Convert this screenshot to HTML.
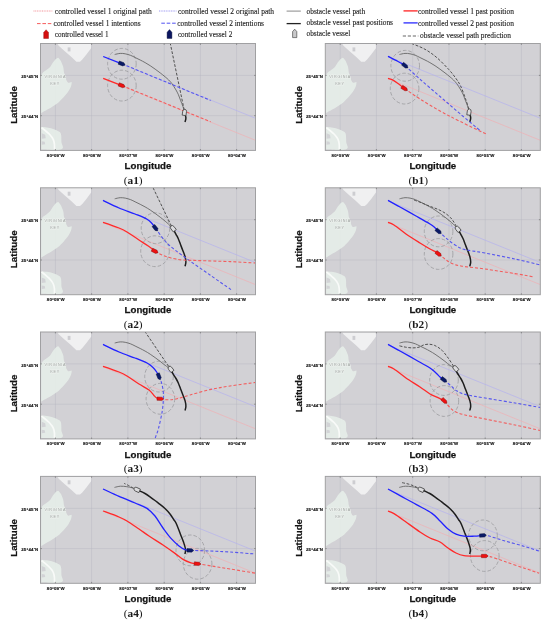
<!DOCTYPE html>
<html lang="en"><head><meta charset="utf-8"><title>Vessel collision avoidance scenarios</title>
<style>
html,body{margin:0;padding:0;background:#fff;}
body{width:550px;height:625px;overflow:hidden;}
svg{display:block;}
.lg{font-family:"Liberation Serif",serif;font-size:7.6px;fill:#222;stroke:#222;stroke-width:0.12px;}
.tk{font-family:"Liberation Sans",sans-serif;font-weight:bold;font-size:4.35px;fill:#1c1c1c;letter-spacing:0.22px;stroke:#1c1c1c;stroke-width:0.18px;}
.ax{font-family:"Liberation Sans",sans-serif;font-weight:bold;font-size:9.7px;fill:#141414;stroke:#141414;stroke-width:0.25px;}
.cap{font-family:"Liberation Serif",serif;font-weight:bold;font-size:11.3px;fill:#1a1a1a;}
.pr{font-weight:normal;font-size:11.4px;}
.mk{font-family:"Liberation Sans",sans-serif;font-size:3.7px;fill:#9fa3a1;letter-spacing:0.7px;stroke:#edf1ee;stroke-width:1px;paint-order:stroke;}
</style></head><body>
<svg width="550" height="625" viewBox="0 0 550 625">
<rect width="550" height="625" fill="#fff"/>
<path d="M33.5 11H52.5" fill="none" stroke="#f2959b" stroke-width="1.0" stroke-dasharray="1 0.7" stroke-linecap="butt" stroke-linejoin="round"/>
<text x="54.8" y="13.6" class="lg" textLength="97" lengthAdjust="spacingAndGlyphs">controlled vessel 1 original path</text>
<path d="M37 23.6H51.3" fill="none" stroke="#f54a4a" stroke-width="0.9" stroke-dasharray="3.6 1.8" stroke-linecap="butt" stroke-linejoin="round"/>
<text x="53.6" y="26.0" class="lg" textLength="87" lengthAdjust="spacingAndGlyphs">controlled vessel 1 intentions</text>
<path d="M43.7 38.5V32.4L46.1 29.7L48.5 32.4V38.5Z" fill="#d40f0f" stroke="#8a0a0a" stroke-width="0.4"/>
<text x="54.8" y="37.2" class="lg" textLength="53.7" lengthAdjust="spacingAndGlyphs">controlled vessel 1</text>
<path d="M159 11H176.5" fill="none" stroke="#9c98f0" stroke-width="1.0" stroke-dasharray="1 0.7" stroke-linecap="butt" stroke-linejoin="round"/>
<text x="177.9" y="13.6" class="lg" textLength="96.2" lengthAdjust="spacingAndGlyphs">controlled vessel 2 original path</text>
<path d="M161.3 23.2H176" fill="none" stroke="#3c3cf0" stroke-width="0.9" stroke-dasharray="3.6 1.8" stroke-linecap="butt" stroke-linejoin="round"/>
<text x="177.2" y="25.6" class="lg" textLength="86.8" lengthAdjust="spacingAndGlyphs">controlled vessel 2 intentions</text>
<path d="M167.1 38.4V32.3L169.5 29.6L171.9 32.3V38.4Z" fill="#0b1660" stroke="#060b33" stroke-width="0.4"/>
<text x="177.9" y="36.6" class="lg" textLength="54.4" lengthAdjust="spacingAndGlyphs">controlled vessel 2</text>
<path d="M286.6 11.1H300.8" fill="none" stroke="#7c7c7c" stroke-width="0.9" stroke-linecap="butt" stroke-linejoin="round"/>
<text x="306.5" y="13.6" class="lg" textLength="58.6" lengthAdjust="spacingAndGlyphs">obstacle vessel path</text>
<path d="M286.6 23.6H300.8" fill="none" stroke="#222" stroke-width="1.3" stroke-linecap="butt" stroke-linejoin="round"/>
<text x="306.5" y="25.4" class="lg" textLength="86.5" lengthAdjust="spacingAndGlyphs">obstacle vessel past positions</text>
<path d="M292.6 37.6V31.6L294.7 29.2L296.8 31.6V37.6Z" fill="#c9c9cb" stroke="#333" stroke-width="0.6"/>
<text x="306.5" y="36.1" class="lg" textLength="43.7" lengthAdjust="spacingAndGlyphs">obstacle vessel</text>
<path d="M403.5 10.9H417.7" fill="none" stroke="#ff2222" stroke-width="1.3" stroke-linecap="butt" stroke-linejoin="round"/>
<text x="417.9" y="13.6" class="lg" textLength="96" lengthAdjust="spacingAndGlyphs">controlled vessel 1 past position</text>
<path d="M403.5 22.9H417.7" fill="none" stroke="#2a2aff" stroke-width="1.3" stroke-linecap="butt" stroke-linejoin="round"/>
<text x="417.9" y="25.6" class="lg" textLength="96" lengthAdjust="spacingAndGlyphs">controlled vessel 2 past position</text>
<path d="M402.8 36H418.4" fill="none" stroke="#555" stroke-width="0.9" stroke-dasharray="3.2 1.8" stroke-linecap="butt" stroke-linejoin="round"/>
<text x="420" y="38.0" class="lg" textLength="91" lengthAdjust="spacingAndGlyphs">obstacle vessel path prediction</text>
<!-- panel a1 -->
<g transform="translate(40.5 43.5)">
<rect x="0" y="0" width="215" height="106.9" fill="#d2d1d5"/>
<path d="M14.9 0V106.9" stroke="#b2b1be" stroke-width="0.6" opacity="0.65"/>
<path d="M51.1 0V106.9" stroke="#b2b1be" stroke-width="0.6" opacity="0.65"/>
<path d="M87.4 0V106.9" stroke="#b2b1be" stroke-width="0.6" opacity="0.65"/>
<path d="M123.7 0V106.9" stroke="#b2b1be" stroke-width="0.6" opacity="0.65"/>
<path d="M159.9 0V106.9" stroke="#b2b1be" stroke-width="0.6" opacity="0.65"/>
<path d="M196.1 0V106.9" stroke="#b2b1be" stroke-width="0.6" opacity="0.65"/>
<path d="M0 31.9H215" stroke="#b2b1be" stroke-width="0.6" opacity="0.65"/>
<path d="M0 72.2H215" stroke="#b2b1be" stroke-width="0.6" opacity="0.65"/>
<g transform="translate(0.2 -0.3)">
<path d="M0.5 32 C0.7 31.7 1.6 29.9 2.3 29.2 C3 28.5 5.4 27.1 6.3 26.4 C7.2 25.7 8.9 24.5 9.6 23.6 C10.3 22.7 11.7 20 12.4 19.1 C13.1 18.2 14.6 16.3 15.2 15.8 C15.8 15.3 16.9 14.3 17.5 14.6 C18.1 14.9 19.7 16.9 20.3 18 C20.9 19.1 22.1 22.3 22.5 23.6 C22.9 24.9 23 28 23.3 29.2 C23.6 30.4 24.5 32.7 24.8 33.7 C25.1 34.7 25.6 36.7 25.9 37.4 C26.2 38.1 26.9 39.4 27.5 39.6 C28.1 39.8 30.6 38.4 30.9 38.8 C31.2 39.2 30.8 41.6 30.4 42.7 C30 43.8 28.5 47 27.6 48.3 C26.7 49.6 24.3 52.6 23.1 53.9 C21.9 55.2 18.9 58.3 17.5 59.5 C16.1 60.7 12.4 63 10.8 64 C9.2 65 5.2 67.2 4 67.9 C2.8 68.6 0.9 69.8 0.5 70.1 Z" fill="#e7f0ea" fill-opacity="0.85"/>
<path d="M16.6 0.6 L50.4 0.6 L50.4 5.1 L45.7 11.4 L41.6 16.4 L39.3 18.5 L35.7 18.5 L30.2 13.3 L23.8 7.8 L18 2.6 Z" fill="#f0f0f1"/>
<rect x="27" y="4.2" width="2.8" height="4" fill="#cdcdd1"/>
<path d="M0.6 83.9 C1.7 84 4 83.9 6.2 84.2 C8.4 84.5 9.5 84.8 11.7 85.5 C13.9 86.2 15.4 86.7 17.1 87.7 C18.8 88.7 19.4 88.2 20.1 90.4 C20.8 92.6 20.6 95.4 20.7 98.6 C20.8 101.8 24.4 104.8 20.4 106.3 C16.4 107.8 4.6 106.3 0.6 106.3 Z" fill="#e7f0ea" fill-opacity="0.85"/>
<path d="M0.8 84.4 C2.2 85.6 3.6 86.5 6.2 88.8 C8.8 91.1 8.7 90.6 10.6 93.2 C12.5 95.8 12.4 95.1 13.3 98.6 C14.2 102.1 13.7 104.2 13.8 106.3" fill="none" stroke="#f8faf8" stroke-width="1.7"/>
<path d="M1 90 L4.5 91.5 L5 95 L1 95.5 Z M1 98 L4 98.5 L4.5 101 L1 101.5Z" fill="#d2d3d6"/>
<text x="14.6" y="34.8" class="mk" text-anchor="middle">VIRGINIA</text>
<text x="14.4" y="41.6" class="mk" text-anchor="middle">KEY</text>
</g>
</g>
<clipPath id="cpa1"><rect x="40.5" y="43.5" width="215" height="106.9"/></clipPath>
<g clip-path="url(#cpa1)">
<path d="M103.2 56.6 L255.7 118.3" fill="none" stroke="#b4b1ee" stroke-width="0.7" stroke-linecap="butt" stroke-linejoin="round"/>
<path d="M103.2 78.5 L255.7 140.4" fill="none" stroke="#efb0b5" stroke-width="0.7" stroke-linecap="butt" stroke-linejoin="round"/>
<ellipse cx="121.9" cy="63.8" rx="14.3" ry="15.4" fill="none" stroke="#a0a0a4" stroke-width="0.9" stroke-dasharray="3.6 2"/>
<ellipse cx="121.9" cy="85.6" rx="14.3" ry="15.4" fill="none" stroke="#a0a0a4" stroke-width="0.9" stroke-dasharray="3.6 2"/>
<path d="M114.7 54.5 C115.6 54.3 118.5 53.5 120.2 53.4 C122 53.3 123.5 53.5 125.2 53.8 C127 54.1 129 54.8 130.7 55.4 C132.3 56 133.5 56.7 135.1 57.5 C136.7 58.3 138.5 59.1 140.2 60 C141.9 60.9 143.4 61.6 145.1 62.6 C146.8 63.6 148.5 64.6 150.2 65.7 C151.9 66.8 153.4 67.9 155.1 69.1 C156.8 70.3 158.5 71.6 160.2 72.9 C161.9 74.2 163.7 75.6 165.1 76.8 C166.5 78 167.5 78.8 168.7 80 C169.8 81.2 170.8 82 172 83.7 C173.2 85.4 175 88.2 176 90 C177 91.8 177.4 92.5 178.2 94.2 C178.9 95.9 179.7 98.1 180.5 100.2 C181.3 102.3 182.3 104.7 183 106.7 C183.7 108.7 184.2 111.4 184.5 112.3" fill="none" stroke="#666666" stroke-width="0.9" stroke-linecap="butt" stroke-linejoin="round"/>
<path d="M184.5 112.3 C184.7 113.2 185.8 116.1 185.9 117.7 C186 119.3 185.2 121.3 185 122" fill="none" stroke="#1e1e1e" stroke-width="1.5" stroke-linecap="butt" stroke-linejoin="round"/>
<path d="M184.2 110 L170.2 43" fill="none" stroke="#505050" stroke-width="1.0" stroke-dasharray="2.8 1.6" stroke-linecap="butt" stroke-linejoin="round"/>
<path d="M121.9 63.8 L210.6 100.4" fill="none" stroke="#5656ee" stroke-width="1.1" stroke-dasharray="3 2" stroke-linecap="butt" stroke-linejoin="round"/>
<path d="M121.9 85.6 L210.6 121.8" fill="none" stroke="#f25e5e" stroke-width="1.1" stroke-dasharray="3 2" stroke-linecap="butt" stroke-linejoin="round"/>
<path d="M103.2 56.5 L121.9 63.8" fill="none" stroke="#2222ff" stroke-width="1.3" stroke-linecap="butt" stroke-linejoin="round"/>
<path d="M103.2 78.4 L121.9 85.6" fill="none" stroke="#ff2a2a" stroke-width="1.3" stroke-linecap="butt" stroke-linejoin="round"/>
<path d="M-3.1 -1.9 L0.9 -1.9 Q2.8 -1.9 3.1 0 Q2.8 1.9 0.9 1.9 L-3.1 1.9 Z" transform="translate(184.5 112.3) rotate(-82)" fill="#dcdcde" stroke="#333" stroke-width="0.7" stroke-linejoin="round"/>
<path d="M-3.4 -1.7 L1.5 -1.7 L3.4 0 L1.5 1.7 L-3.4 1.7 Z" transform="translate(121.9 63.8) rotate(21.5)" fill="#0a1a66" stroke="#050c3a" stroke-width="0.4" stroke-linejoin="round"/>
<path d="M-3.4 -1.7 L1.5 -1.7 L3.4 0 L1.5 1.7 L-3.4 1.7 Z" transform="translate(121.9 85.6) rotate(21.5)" fill="#ee1111" stroke="#7a0a0a" stroke-width="0.4" stroke-linejoin="round"/>
</g>
<g transform="translate(40.5 43.5)">
<rect x="0" y="0" width="215" height="106.9" fill="none" stroke="#a0a0a2" stroke-width="1"/>
<path d="M14.9 0v1.4M14.9 106.9v-1.4M51.1 0v1.4M51.1 106.9v-1.4M87.4 0v1.4M87.4 106.9v-1.4M123.7 0v1.4M123.7 106.9v-1.4M159.9 0v1.4M159.9 106.9v-1.4M196.1 0v1.4M196.1 106.9v-1.4M0 31.9h1.4M215 31.9h-1.4M0 72.2h1.4M215 72.2h-1.4" stroke="#666" stroke-width="0.6"/>
<text x="15.3" y="113.4" class="tk" text-anchor="middle">80°09'W</text>
<text x="51.5" y="113.4" class="tk" text-anchor="middle">80°08'W</text>
<text x="87.8" y="113.4" class="tk" text-anchor="middle">80°07'W</text>
<text x="124.1" y="113.4" class="tk" text-anchor="middle">80°06'W</text>
<text x="160.3" y="113.4" class="tk" text-anchor="middle">80°05'W</text>
<text x="196.5" y="113.4" class="tk" text-anchor="middle">80°04'W</text>
<text x="-2.2" y="34.6" class="tk" text-anchor="end">25°45'N</text>
<text x="-2.2" y="74.5" class="tk" text-anchor="end">25°44'N</text>
<text x="107.5" y="125.7" class="ax" text-anchor="middle">Longitude</text>
<text transform="translate(-23.5 61.5) rotate(-90)" class="ax" text-anchor="middle">Latitude</text>
<text x="83.2" y="140.2" class="cap"><tspan class="pr">(</tspan>a1<tspan class="pr">)</tspan></text>
</g>
<!-- panel b1 -->
<g transform="translate(325.3 43.5)">
<rect x="0" y="0" width="215" height="106.9" fill="#d2d1d5"/>
<path d="M14.9 0V106.9" stroke="#b2b1be" stroke-width="0.6" opacity="0.65"/>
<path d="M51.1 0V106.9" stroke="#b2b1be" stroke-width="0.6" opacity="0.65"/>
<path d="M87.4 0V106.9" stroke="#b2b1be" stroke-width="0.6" opacity="0.65"/>
<path d="M123.7 0V106.9" stroke="#b2b1be" stroke-width="0.6" opacity="0.65"/>
<path d="M159.9 0V106.9" stroke="#b2b1be" stroke-width="0.6" opacity="0.65"/>
<path d="M196.1 0V106.9" stroke="#b2b1be" stroke-width="0.6" opacity="0.65"/>
<path d="M0 31.9H215" stroke="#b2b1be" stroke-width="0.6" opacity="0.65"/>
<path d="M0 72.2H215" stroke="#b2b1be" stroke-width="0.6" opacity="0.65"/>
<g transform="translate(0.2 -0.3)">
<path d="M0.5 32 C0.7 31.7 1.6 29.9 2.3 29.2 C3 28.5 5.4 27.1 6.3 26.4 C7.2 25.7 8.9 24.5 9.6 23.6 C10.3 22.7 11.7 20 12.4 19.1 C13.1 18.2 14.6 16.3 15.2 15.8 C15.8 15.3 16.9 14.3 17.5 14.6 C18.1 14.9 19.7 16.9 20.3 18 C20.9 19.1 22.1 22.3 22.5 23.6 C22.9 24.9 23 28 23.3 29.2 C23.6 30.4 24.5 32.7 24.8 33.7 C25.1 34.7 25.6 36.7 25.9 37.4 C26.2 38.1 26.9 39.4 27.5 39.6 C28.1 39.8 30.6 38.4 30.9 38.8 C31.2 39.2 30.8 41.6 30.4 42.7 C30 43.8 28.5 47 27.6 48.3 C26.7 49.6 24.3 52.6 23.1 53.9 C21.9 55.2 18.9 58.3 17.5 59.5 C16.1 60.7 12.4 63 10.8 64 C9.2 65 5.2 67.2 4 67.9 C2.8 68.6 0.9 69.8 0.5 70.1 Z" fill="#e7f0ea" fill-opacity="0.85"/>
<path d="M16.6 0.6 L50.4 0.6 L50.4 5.1 L45.7 11.4 L41.6 16.4 L39.3 18.5 L35.7 18.5 L30.2 13.3 L23.8 7.8 L18 2.6 Z" fill="#f0f0f1"/>
<rect x="27" y="4.2" width="2.8" height="4" fill="#cdcdd1"/>
<path d="M0.6 83.9 C1.7 84 4 83.9 6.2 84.2 C8.4 84.5 9.5 84.8 11.7 85.5 C13.9 86.2 15.4 86.7 17.1 87.7 C18.8 88.7 19.4 88.2 20.1 90.4 C20.8 92.6 20.6 95.4 20.7 98.6 C20.8 101.8 24.4 104.8 20.4 106.3 C16.4 107.8 4.6 106.3 0.6 106.3 Z" fill="#e7f0ea" fill-opacity="0.85"/>
<path d="M0.8 84.4 C2.2 85.6 3.6 86.5 6.2 88.8 C8.8 91.1 8.7 90.6 10.6 93.2 C12.5 95.8 12.4 95.1 13.3 98.6 C14.2 102.1 13.7 104.2 13.8 106.3" fill="none" stroke="#f8faf8" stroke-width="1.7"/>
<path d="M1 90 L4.5 91.5 L5 95 L1 95.5 Z M1 98 L4 98.5 L4.5 101 L1 101.5Z" fill="#d2d3d6"/>
<text x="14.6" y="34.8" class="mk" text-anchor="middle">VIRGINIA</text>
<text x="14.4" y="41.6" class="mk" text-anchor="middle">KEY</text>
</g>
</g>
<clipPath id="cpb1"><rect x="325.3" y="43.5" width="215" height="106.9"/></clipPath>
<g clip-path="url(#cpb1)">
<path d="M388 56.6 L540.5 118.3" fill="none" stroke="#b4b1ee" stroke-width="0.7" stroke-linecap="butt" stroke-linejoin="round"/>
<path d="M388 78.5 L540.5 140.4" fill="none" stroke="#efb0b5" stroke-width="0.7" stroke-linecap="butt" stroke-linejoin="round"/>
<ellipse cx="405.2" cy="65.8" rx="14.3" ry="15.4" fill="none" stroke="#a0a0a4" stroke-width="0.9" stroke-dasharray="3.6 2"/>
<ellipse cx="404.6" cy="88.6" rx="14.3" ry="15.4" fill="none" stroke="#a0a0a4" stroke-width="0.9" stroke-dasharray="3.6 2"/>
<path d="M399.5 54.5 C400.4 54.3 403.2 53.5 405 53.4 C406.8 53.3 408.2 53.5 410 53.8 C411.8 54.1 413.9 54.8 415.5 55.4 C417.1 56 418.3 56.7 419.9 57.5 C421.5 58.3 423.3 59.1 425 60 C426.7 60.9 428.2 61.6 429.9 62.6 C431.6 63.6 433.3 64.6 435 65.7 C436.7 66.8 438.2 67.9 439.9 69.1 C441.6 70.3 443.3 71.6 445 72.9 C446.7 74.2 448.5 75.6 449.9 76.8 C451.3 78 452.4 78.8 453.5 80 C454.6 81.2 455.6 82 456.8 83.7 C458 85.4 459.8 88.2 460.8 90 C461.8 91.8 462.2 92.5 463 94.2 C463.8 95.9 464.5 98.1 465.3 100.2 C466.1 102.3 467.2 104.7 467.8 106.7 C468.4 108.7 468.9 111.1 469.1 112" fill="none" stroke="#666666" stroke-width="0.9" stroke-linecap="butt" stroke-linejoin="round"/>
<path d="M469.1 112 C469.4 113 470.6 116 470.7 117.7 C470.8 119.4 469.9 121.3 469.8 122" fill="none" stroke="#1e1e1e" stroke-width="1.5" stroke-linecap="butt" stroke-linejoin="round"/>
<path d="M468.8 109 C468.2 107.2 466.8 102.2 465.4 98.4 C464 94.6 462.2 89.3 460.6 86 C459 82.7 457.8 81.1 455.8 78.3 C453.8 75.5 451.9 72.9 448.7 69.4 C445.5 66 440.8 61 436.8 57.6 C432.9 54.2 429 51.6 425 49.3 C421 47 415 44.9 413 44" fill="none" stroke="#505050" stroke-width="1.0" stroke-dasharray="2.8 1.6" stroke-linecap="butt" stroke-linejoin="round"/>
<path d="M405.2 65.8 C407.7 68 414.2 74.1 420 79.2 C425.8 84.3 433.3 90.8 440 96.5 C446.7 102.2 453.2 107.9 460 113.7 C466.8 119.5 477.5 128.4 481 131.3" fill="none" stroke="#5656ee" stroke-width="1.1" stroke-dasharray="3 2" stroke-linecap="butt" stroke-linejoin="round"/>
<path d="M404.6 88.6 C407.2 90.3 414.1 95.3 420 99 C425.9 102.7 433.3 107.3 440 111 C446.7 114.7 452.1 117.5 460 121.4 C467.9 125.3 482.8 132.4 487.4 134.6" fill="none" stroke="#f25e5e" stroke-width="1.1" stroke-dasharray="3 2" stroke-linecap="butt" stroke-linejoin="round"/>
<path d="M388 56.4 C389.3 57.1 393.7 59.2 396 60.4 C398.3 61.6 400.5 62.7 402 63.6 C403.5 64.5 404.7 65.4 405.2 65.8" fill="none" stroke="#2222ff" stroke-width="1.3" stroke-linecap="butt" stroke-linejoin="round"/>
<path d="M388 78.4 C388.7 78.6 390.3 78.8 392 79.6 C393.7 80.4 395.9 82 398 83.5 C400.1 85 403.5 87.8 404.6 88.6" fill="none" stroke="#ff2a2a" stroke-width="1.3" stroke-linecap="butt" stroke-linejoin="round"/>
<path d="M-3.1 -1.9 L0.9 -1.9 Q2.8 -1.9 3.1 0 Q2.8 1.9 0.9 1.9 L-3.1 1.9 Z" transform="translate(469.1 112) rotate(-82)" fill="#dcdcde" stroke="#333" stroke-width="0.7" stroke-linejoin="round"/>
<path d="M-3.4 -1.7 L1.5 -1.7 L3.4 0 L1.5 1.7 L-3.4 1.7 Z" transform="translate(405.2 65.8) rotate(38)" fill="#0a1a66" stroke="#050c3a" stroke-width="0.4" stroke-linejoin="round"/>
<path d="M-3.4 -1.7 L1.5 -1.7 L3.4 0 L1.5 1.7 L-3.4 1.7 Z" transform="translate(404.6 88.6) rotate(33)" fill="#ee1111" stroke="#7a0a0a" stroke-width="0.4" stroke-linejoin="round"/>
</g>
<g transform="translate(325.3 43.5)">
<rect x="0" y="0" width="215" height="106.9" fill="none" stroke="#a0a0a2" stroke-width="1"/>
<path d="M14.9 0v1.4M14.9 106.9v-1.4M51.1 0v1.4M51.1 106.9v-1.4M87.4 0v1.4M87.4 106.9v-1.4M123.7 0v1.4M123.7 106.9v-1.4M159.9 0v1.4M159.9 106.9v-1.4M196.1 0v1.4M196.1 106.9v-1.4M0 31.9h1.4M215 31.9h-1.4M0 72.2h1.4M215 72.2h-1.4" stroke="#666" stroke-width="0.6"/>
<text x="15.3" y="113.4" class="tk" text-anchor="middle">80°09'W</text>
<text x="51.5" y="113.4" class="tk" text-anchor="middle">80°08'W</text>
<text x="87.8" y="113.4" class="tk" text-anchor="middle">80°07'W</text>
<text x="124.1" y="113.4" class="tk" text-anchor="middle">80°06'W</text>
<text x="160.3" y="113.4" class="tk" text-anchor="middle">80°05'W</text>
<text x="196.5" y="113.4" class="tk" text-anchor="middle">80°04'W</text>
<text x="-2.2" y="34.6" class="tk" text-anchor="end">25°45'N</text>
<text x="-2.2" y="74.5" class="tk" text-anchor="end">25°44'N</text>
<text x="107.5" y="125.7" class="ax" text-anchor="middle">Longitude</text>
<text transform="translate(-23.5 61.5) rotate(-90)" class="ax" text-anchor="middle">Latitude</text>
<text x="83.2" y="140.2" class="cap"><tspan class="pr">(</tspan>b1<tspan class="pr">)</tspan></text>
</g>
<!-- panel a2 -->
<g transform="translate(40.5 187.8)">
<rect x="0" y="0" width="215" height="106.9" fill="#d2d1d5"/>
<path d="M14.9 0V106.9" stroke="#b2b1be" stroke-width="0.6" opacity="0.65"/>
<path d="M51.1 0V106.9" stroke="#b2b1be" stroke-width="0.6" opacity="0.65"/>
<path d="M87.4 0V106.9" stroke="#b2b1be" stroke-width="0.6" opacity="0.65"/>
<path d="M123.7 0V106.9" stroke="#b2b1be" stroke-width="0.6" opacity="0.65"/>
<path d="M159.9 0V106.9" stroke="#b2b1be" stroke-width="0.6" opacity="0.65"/>
<path d="M196.1 0V106.9" stroke="#b2b1be" stroke-width="0.6" opacity="0.65"/>
<path d="M0 31.9H215" stroke="#b2b1be" stroke-width="0.6" opacity="0.65"/>
<path d="M0 72.2H215" stroke="#b2b1be" stroke-width="0.6" opacity="0.65"/>
<g transform="translate(0.2 -0.3)">
<path d="M0.5 32 C0.7 31.7 1.6 29.9 2.3 29.2 C3 28.5 5.4 27.1 6.3 26.4 C7.2 25.7 8.9 24.5 9.6 23.6 C10.3 22.7 11.7 20 12.4 19.1 C13.1 18.2 14.6 16.3 15.2 15.8 C15.8 15.3 16.9 14.3 17.5 14.6 C18.1 14.9 19.7 16.9 20.3 18 C20.9 19.1 22.1 22.3 22.5 23.6 C22.9 24.9 23 28 23.3 29.2 C23.6 30.4 24.5 32.7 24.8 33.7 C25.1 34.7 25.6 36.7 25.9 37.4 C26.2 38.1 26.9 39.4 27.5 39.6 C28.1 39.8 30.6 38.4 30.9 38.8 C31.2 39.2 30.8 41.6 30.4 42.7 C30 43.8 28.5 47 27.6 48.3 C26.7 49.6 24.3 52.6 23.1 53.9 C21.9 55.2 18.9 58.3 17.5 59.5 C16.1 60.7 12.4 63 10.8 64 C9.2 65 5.2 67.2 4 67.9 C2.8 68.6 0.9 69.8 0.5 70.1 Z" fill="#e7f0ea" fill-opacity="0.85"/>
<path d="M16.6 0.6 L50.4 0.6 L50.4 5.1 L45.7 11.4 L41.6 16.4 L39.3 18.5 L35.7 18.5 L30.2 13.3 L23.8 7.8 L18 2.6 Z" fill="#f0f0f1"/>
<rect x="27" y="4.2" width="2.8" height="4" fill="#cdcdd1"/>
<path d="M0.6 83.9 C1.7 84 4 83.9 6.2 84.2 C8.4 84.5 9.5 84.8 11.7 85.5 C13.9 86.2 15.4 86.7 17.1 87.7 C18.8 88.7 19.4 88.2 20.1 90.4 C20.8 92.6 20.6 95.4 20.7 98.6 C20.8 101.8 24.4 104.8 20.4 106.3 C16.4 107.8 4.6 106.3 0.6 106.3 Z" fill="#e7f0ea" fill-opacity="0.85"/>
<path d="M0.8 84.4 C2.2 85.6 3.6 86.5 6.2 88.8 C8.8 91.1 8.7 90.6 10.6 93.2 C12.5 95.8 12.4 95.1 13.3 98.6 C14.2 102.1 13.7 104.2 13.8 106.3" fill="none" stroke="#f8faf8" stroke-width="1.7"/>
<path d="M1 90 L4.5 91.5 L5 95 L1 95.5 Z M1 98 L4 98.5 L4.5 101 L1 101.5Z" fill="#d2d3d6"/>
<text x="14.6" y="34.8" class="mk" text-anchor="middle">VIRGINIA</text>
<text x="14.4" y="41.6" class="mk" text-anchor="middle">KEY</text>
</g>
</g>
<clipPath id="cpa2"><rect x="40.5" y="187.8" width="215" height="106.9"/></clipPath>
<g clip-path="url(#cpa2)">
<path d="M103.2 200.9 L255.7 262.6" fill="none" stroke="#b4b1ee" stroke-width="0.7" stroke-linecap="butt" stroke-linejoin="round"/>
<path d="M103.2 222.8 L255.7 284.7" fill="none" stroke="#efb0b5" stroke-width="0.7" stroke-linecap="butt" stroke-linejoin="round"/>
<ellipse cx="155.5" cy="228.2" rx="14.3" ry="15.4" fill="none" stroke="#a0a0a4" stroke-width="0.9" stroke-dasharray="3.6 2"/>
<ellipse cx="155" cy="251.2" rx="14.3" ry="15.4" fill="none" stroke="#a0a0a4" stroke-width="0.9" stroke-dasharray="3.6 2"/>
<path d="M114.7 198.8 C115.6 198.6 118.5 197.8 120.2 197.7 C122 197.6 123.5 197.8 125.2 198.1 C127 198.4 129 199.1 130.7 199.7 C132.3 200.3 133.5 201 135.1 201.8 C136.7 202.6 138.5 203.5 140.2 204.3 C141.9 205.2 143.4 206 145.1 206.9 C146.8 207.8 148.5 208.9 150.2 210 C151.9 211.1 153.4 212.2 155.1 213.4 C156.8 214.6 158.5 215.9 160.2 217.2 C161.9 218.5 163.7 219.9 165.1 221.1 C166.5 222.3 167.4 223.1 168.7 224.3 C170 225.5 172.2 227.6 172.9 228.3" fill="none" stroke="#666666" stroke-width="0.9" stroke-linecap="butt" stroke-linejoin="round"/>
<path d="M172.9 228.3 C173.4 229.3 175.1 232.6 176 234.3 C176.9 236 177.4 236.8 178.2 238.5 C178.9 240.2 179.7 242.4 180.5 244.5 C181.3 246.6 182.2 249 183 251 C183.8 253 184.6 254.9 185.1 256.7 C185.6 258.5 185.9 260.4 185.9 262 C185.9 263.6 185.2 265.6 185 266.3" fill="none" stroke="#1e1e1e" stroke-width="1.5" stroke-linecap="butt" stroke-linejoin="round"/>
<path d="M171.4 226 L152.7 187" fill="none" stroke="#505050" stroke-width="1.0" stroke-dasharray="2.8 1.6" stroke-linecap="butt" stroke-linejoin="round"/>
<path d="M155.5 228.2 C157.1 230.3 161.8 237.4 165 241 C168.2 244.6 170.8 246.7 175 250 C179.2 253.3 184.2 256.8 190 261 C195.8 265.2 203.2 270.2 210 275 C216.8 279.8 227.5 287.2 231 289.6" fill="none" stroke="#5656ee" stroke-width="1.1" stroke-dasharray="3 2" stroke-linecap="butt" stroke-linejoin="round"/>
<path d="M155 251.2 C156.3 251.9 160.3 254.3 163 255.4 C165.7 256.5 167.7 257.2 171 258 C174.3 258.8 178.2 259.6 183 260 C187.8 260.4 192.2 260.3 200 260.6 C207.8 260.9 220.7 261.2 230 261.6 C239.3 262 251.3 262.8 255.6 263" fill="none" stroke="#f25e5e" stroke-width="1.1" stroke-dasharray="3 2" stroke-linecap="butt" stroke-linejoin="round"/>
<path d="M103 200.4 C105.7 201.7 113.7 205.7 119 208 C124.3 210.3 130.3 212.1 135 214 C139.7 215.9 144.2 217.6 147 219.2 C149.8 220.8 150.6 222 152 223.5 C153.4 225 154.9 227.4 155.5 228.2" fill="none" stroke="#2222ff" stroke-width="1.3" stroke-linecap="butt" stroke-linejoin="round"/>
<path d="M103 222.4 C105.7 223.3 115 226.4 119 228 C123 229.6 123.7 230 127 232 C130.3 234 135.3 237.6 139 240 C142.7 242.4 146.3 244.6 149 246.5 C151.7 248.4 154 250.4 155 251.2" fill="none" stroke="#ff2a2a" stroke-width="1.3" stroke-linecap="butt" stroke-linejoin="round"/>
<path d="M-3.1 -1.9 L0.9 -1.9 Q2.8 -1.9 3.1 0 Q2.8 1.9 0.9 1.9 L-3.1 1.9 Z" transform="translate(172.9 228.3) rotate(-128)" fill="#dcdcde" stroke="#333" stroke-width="0.7" stroke-linejoin="round"/>
<path d="M-3.4 -1.7 L1.5 -1.7 L3.4 0 L1.5 1.7 L-3.4 1.7 Z" transform="translate(155.5 228.2) rotate(52)" fill="#0a1a66" stroke="#050c3a" stroke-width="0.4" stroke-linejoin="round"/>
<path d="M-3.4 -1.7 L1.5 -1.7 L3.4 0 L1.5 1.7 L-3.4 1.7 Z" transform="translate(155 251.2) rotate(27)" fill="#ee1111" stroke="#7a0a0a" stroke-width="0.4" stroke-linejoin="round"/>
</g>
<g transform="translate(40.5 187.8)">
<rect x="0" y="0" width="215" height="106.9" fill="none" stroke="#a0a0a2" stroke-width="1"/>
<path d="M14.9 0v1.4M14.9 106.9v-1.4M51.1 0v1.4M51.1 106.9v-1.4M87.4 0v1.4M87.4 106.9v-1.4M123.7 0v1.4M123.7 106.9v-1.4M159.9 0v1.4M159.9 106.9v-1.4M196.1 0v1.4M196.1 106.9v-1.4M0 31.9h1.4M215 31.9h-1.4M0 72.2h1.4M215 72.2h-1.4" stroke="#666" stroke-width="0.6"/>
<text x="15.3" y="113.4" class="tk" text-anchor="middle">80°09'W</text>
<text x="51.5" y="113.4" class="tk" text-anchor="middle">80°08'W</text>
<text x="87.8" y="113.4" class="tk" text-anchor="middle">80°07'W</text>
<text x="124.1" y="113.4" class="tk" text-anchor="middle">80°06'W</text>
<text x="160.3" y="113.4" class="tk" text-anchor="middle">80°05'W</text>
<text x="196.5" y="113.4" class="tk" text-anchor="middle">80°04'W</text>
<text x="-2.2" y="34.6" class="tk" text-anchor="end">25°45'N</text>
<text x="-2.2" y="74.5" class="tk" text-anchor="end">25°44'N</text>
<text x="107.5" y="125.7" class="ax" text-anchor="middle">Longitude</text>
<text transform="translate(-23.5 61.5) rotate(-90)" class="ax" text-anchor="middle">Latitude</text>
<text x="83.2" y="140.2" class="cap"><tspan class="pr">(</tspan>a2<tspan class="pr">)</tspan></text>
</g>
<!-- panel b2 -->
<g transform="translate(325.3 187.8)">
<rect x="0" y="0" width="215" height="106.9" fill="#d2d1d5"/>
<path d="M14.9 0V106.9" stroke="#b2b1be" stroke-width="0.6" opacity="0.65"/>
<path d="M51.1 0V106.9" stroke="#b2b1be" stroke-width="0.6" opacity="0.65"/>
<path d="M87.4 0V106.9" stroke="#b2b1be" stroke-width="0.6" opacity="0.65"/>
<path d="M123.7 0V106.9" stroke="#b2b1be" stroke-width="0.6" opacity="0.65"/>
<path d="M159.9 0V106.9" stroke="#b2b1be" stroke-width="0.6" opacity="0.65"/>
<path d="M196.1 0V106.9" stroke="#b2b1be" stroke-width="0.6" opacity="0.65"/>
<path d="M0 31.9H215" stroke="#b2b1be" stroke-width="0.6" opacity="0.65"/>
<path d="M0 72.2H215" stroke="#b2b1be" stroke-width="0.6" opacity="0.65"/>
<g transform="translate(0.2 -0.3)">
<path d="M0.5 32 C0.7 31.7 1.6 29.9 2.3 29.2 C3 28.5 5.4 27.1 6.3 26.4 C7.2 25.7 8.9 24.5 9.6 23.6 C10.3 22.7 11.7 20 12.4 19.1 C13.1 18.2 14.6 16.3 15.2 15.8 C15.8 15.3 16.9 14.3 17.5 14.6 C18.1 14.9 19.7 16.9 20.3 18 C20.9 19.1 22.1 22.3 22.5 23.6 C22.9 24.9 23 28 23.3 29.2 C23.6 30.4 24.5 32.7 24.8 33.7 C25.1 34.7 25.6 36.7 25.9 37.4 C26.2 38.1 26.9 39.4 27.5 39.6 C28.1 39.8 30.6 38.4 30.9 38.8 C31.2 39.2 30.8 41.6 30.4 42.7 C30 43.8 28.5 47 27.6 48.3 C26.7 49.6 24.3 52.6 23.1 53.9 C21.9 55.2 18.9 58.3 17.5 59.5 C16.1 60.7 12.4 63 10.8 64 C9.2 65 5.2 67.2 4 67.9 C2.8 68.6 0.9 69.8 0.5 70.1 Z" fill="#e7f0ea" fill-opacity="0.85"/>
<path d="M16.6 0.6 L50.4 0.6 L50.4 5.1 L45.7 11.4 L41.6 16.4 L39.3 18.5 L35.7 18.5 L30.2 13.3 L23.8 7.8 L18 2.6 Z" fill="#f0f0f1"/>
<rect x="27" y="4.2" width="2.8" height="4" fill="#cdcdd1"/>
<path d="M0.6 83.9 C1.7 84 4 83.9 6.2 84.2 C8.4 84.5 9.5 84.8 11.7 85.5 C13.9 86.2 15.4 86.7 17.1 87.7 C18.8 88.7 19.4 88.2 20.1 90.4 C20.8 92.6 20.6 95.4 20.7 98.6 C20.8 101.8 24.4 104.8 20.4 106.3 C16.4 107.8 4.6 106.3 0.6 106.3 Z" fill="#e7f0ea" fill-opacity="0.85"/>
<path d="M0.8 84.4 C2.2 85.6 3.6 86.5 6.2 88.8 C8.8 91.1 8.7 90.6 10.6 93.2 C12.5 95.8 12.4 95.1 13.3 98.6 C14.2 102.1 13.7 104.2 13.8 106.3" fill="none" stroke="#f8faf8" stroke-width="1.7"/>
<path d="M1 90 L4.5 91.5 L5 95 L1 95.5 Z M1 98 L4 98.5 L4.5 101 L1 101.5Z" fill="#d2d3d6"/>
<text x="14.6" y="34.8" class="mk" text-anchor="middle">VIRGINIA</text>
<text x="14.4" y="41.6" class="mk" text-anchor="middle">KEY</text>
</g>
</g>
<clipPath id="cpb2"><rect x="325.3" y="187.8" width="215" height="106.9"/></clipPath>
<g clip-path="url(#cpb2)">
<path d="M388 200.9 L540.5 262.6" fill="none" stroke="#b4b1ee" stroke-width="0.7" stroke-linecap="butt" stroke-linejoin="round"/>
<path d="M388 222.8 L540.5 284.7" fill="none" stroke="#efb0b5" stroke-width="0.7" stroke-linecap="butt" stroke-linejoin="round"/>
<ellipse cx="438.6" cy="231.4" rx="14.3" ry="15.4" fill="none" stroke="#a0a0a4" stroke-width="0.9" stroke-dasharray="3.6 2"/>
<ellipse cx="438.6" cy="254" rx="14.3" ry="15.4" fill="none" stroke="#a0a0a4" stroke-width="0.9" stroke-dasharray="3.6 2"/>
<path d="M399.5 198.8 C400.4 198.6 403.2 197.8 405 197.7 C406.8 197.6 408.2 197.8 410 198.1 C411.8 198.4 413.9 199.1 415.5 199.7 C417.1 200.3 418.3 201 419.9 201.8 C421.5 202.6 423.3 203.5 425 204.3 C426.7 205.2 428.2 206 429.9 206.9 C431.6 207.8 433.3 208.9 435 210 C436.7 211.1 438.2 212.2 439.9 213.4 C441.6 214.6 443.3 215.9 445 217.2 C446.7 218.5 448.5 219.9 449.9 221.1 C451.3 222.3 452.2 223 453.5 224.3 C454.8 225.6 457 228.1 457.7 228.9" fill="none" stroke="#666666" stroke-width="0.9" stroke-linecap="butt" stroke-linejoin="round"/>
<path d="M457.7 228.9 C458.2 229.8 459.9 232.7 460.8 234.3 C461.7 235.9 462.2 236.8 463 238.5 C463.8 240.2 464.5 242.4 465.3 244.5 C466.1 246.6 467 249 467.8 251 C468.6 253 469.4 254.9 469.9 256.7 C470.4 258.5 470.7 260.4 470.7 262 C470.7 263.6 469.9 265.6 469.8 266.3" fill="none" stroke="#1e1e1e" stroke-width="1.5" stroke-linecap="butt" stroke-linejoin="round"/>
<path d="M456.2 226.5 C455.8 225.8 454.9 223.8 454 222.3 C453.1 220.8 451.9 219.1 450.5 217.6 C449.1 216.1 447.2 214.6 445.5 213.4 C443.8 212.2 441.8 211.2 440 210.3 C438.2 209.4 436.7 208.9 435 208.2 C433.3 207.5 431.7 207 430 206.3 C428.3 205.7 426.7 205 425 204.3 C423.3 203.6 421.8 202.9 420 202.2 C418.2 201.5 415 200.4 414 200" fill="none" stroke="#505050" stroke-width="1.0" stroke-dasharray="2.8 1.6" stroke-linecap="butt" stroke-linejoin="round"/>
<path d="M438.6 231.4 C439.8 232.5 443.3 235.7 446 238 C448.7 240.3 451.8 243.1 455 245 C458.2 246.9 460 248.3 465 249.6 C470 250.9 476.7 251.4 485 253 C493.3 254.6 505.7 257 515 259 C524.3 261 536.3 264 540.6 265" fill="none" stroke="#5656ee" stroke-width="1.1" stroke-dasharray="3 2" stroke-linecap="butt" stroke-linejoin="round"/>
<path d="M438.6 254 C439.7 254.8 442.9 257.5 445 259 C447.1 260.5 448.3 261.8 451 263 C453.7 264.2 455.3 265 461 266 C466.7 267 476 267.7 485 269 C494 270.3 506.8 272.3 515 273.6 C523.2 274.9 530.8 276.4 534 277" fill="none" stroke="#f25e5e" stroke-width="1.1" stroke-dasharray="3 2" stroke-linecap="butt" stroke-linejoin="round"/>
<path d="M388 200.4 C390 201.5 395.3 204.4 400 207 C404.7 209.6 411 213.2 416 216 C421 218.8 426.8 222 430 224 C433.2 226 433.6 226.6 435 227.8 C436.4 229 438 230.8 438.6 231.4" fill="none" stroke="#2222ff" stroke-width="1.3" stroke-linecap="butt" stroke-linejoin="round"/>
<path d="M388 222.4 C389 222.8 391 223.1 394 225 C397 226.9 401.7 231 406 234 C410.3 237 416 240.5 420 243 C424 245.5 427.5 247.6 430 249 C432.5 250.4 433.6 250.6 435 251.4 C436.4 252.2 438 253.6 438.6 254" fill="none" stroke="#ff2a2a" stroke-width="1.3" stroke-linecap="butt" stroke-linejoin="round"/>
<path d="M-3.1 -1.9 L0.9 -1.9 Q2.8 -1.9 3.1 0 Q2.8 1.9 0.9 1.9 L-3.1 1.9 Z" transform="translate(457.7 228.9) rotate(-128)" fill="#dcdcde" stroke="#333" stroke-width="0.7" stroke-linejoin="round"/>
<path d="M-3.4 -1.7 L1.5 -1.7 L3.4 0 L1.5 1.7 L-3.4 1.7 Z" transform="translate(438.6 231.4) rotate(40)" fill="#0a1a66" stroke="#050c3a" stroke-width="0.4" stroke-linejoin="round"/>
<path d="M-3.4 -1.7 L1.5 -1.7 L3.4 0 L1.5 1.7 L-3.4 1.7 Z" transform="translate(438.6 254) rotate(38)" fill="#ee1111" stroke="#7a0a0a" stroke-width="0.4" stroke-linejoin="round"/>
</g>
<g transform="translate(325.3 187.8)">
<rect x="0" y="0" width="215" height="106.9" fill="none" stroke="#a0a0a2" stroke-width="1"/>
<path d="M14.9 0v1.4M14.9 106.9v-1.4M51.1 0v1.4M51.1 106.9v-1.4M87.4 0v1.4M87.4 106.9v-1.4M123.7 0v1.4M123.7 106.9v-1.4M159.9 0v1.4M159.9 106.9v-1.4M196.1 0v1.4M196.1 106.9v-1.4M0 31.9h1.4M215 31.9h-1.4M0 72.2h1.4M215 72.2h-1.4" stroke="#666" stroke-width="0.6"/>
<text x="15.3" y="113.4" class="tk" text-anchor="middle">80°09'W</text>
<text x="51.5" y="113.4" class="tk" text-anchor="middle">80°08'W</text>
<text x="87.8" y="113.4" class="tk" text-anchor="middle">80°07'W</text>
<text x="124.1" y="113.4" class="tk" text-anchor="middle">80°06'W</text>
<text x="160.3" y="113.4" class="tk" text-anchor="middle">80°05'W</text>
<text x="196.5" y="113.4" class="tk" text-anchor="middle">80°04'W</text>
<text x="-2.2" y="34.6" class="tk" text-anchor="end">25°45'N</text>
<text x="-2.2" y="74.5" class="tk" text-anchor="end">25°44'N</text>
<text x="107.5" y="125.7" class="ax" text-anchor="middle">Longitude</text>
<text transform="translate(-23.5 61.5) rotate(-90)" class="ax" text-anchor="middle">Latitude</text>
<text x="83.2" y="140.2" class="cap"><tspan class="pr">(</tspan>b2<tspan class="pr">)</tspan></text>
</g>
<!-- panel a3 -->
<g transform="translate(40.5 332)">
<rect x="0" y="0" width="215" height="106.9" fill="#d2d1d5"/>
<path d="M14.9 0V106.9" stroke="#b2b1be" stroke-width="0.6" opacity="0.65"/>
<path d="M51.1 0V106.9" stroke="#b2b1be" stroke-width="0.6" opacity="0.65"/>
<path d="M87.4 0V106.9" stroke="#b2b1be" stroke-width="0.6" opacity="0.65"/>
<path d="M123.7 0V106.9" stroke="#b2b1be" stroke-width="0.6" opacity="0.65"/>
<path d="M159.9 0V106.9" stroke="#b2b1be" stroke-width="0.6" opacity="0.65"/>
<path d="M196.1 0V106.9" stroke="#b2b1be" stroke-width="0.6" opacity="0.65"/>
<path d="M0 31.9H215" stroke="#b2b1be" stroke-width="0.6" opacity="0.65"/>
<path d="M0 72.2H215" stroke="#b2b1be" stroke-width="0.6" opacity="0.65"/>
<g transform="translate(0.2 -0.3)">
<path d="M0.5 32 C0.7 31.7 1.6 29.9 2.3 29.2 C3 28.5 5.4 27.1 6.3 26.4 C7.2 25.7 8.9 24.5 9.6 23.6 C10.3 22.7 11.7 20 12.4 19.1 C13.1 18.2 14.6 16.3 15.2 15.8 C15.8 15.3 16.9 14.3 17.5 14.6 C18.1 14.9 19.7 16.9 20.3 18 C20.9 19.1 22.1 22.3 22.5 23.6 C22.9 24.9 23 28 23.3 29.2 C23.6 30.4 24.5 32.7 24.8 33.7 C25.1 34.7 25.6 36.7 25.9 37.4 C26.2 38.1 26.9 39.4 27.5 39.6 C28.1 39.8 30.6 38.4 30.9 38.8 C31.2 39.2 30.8 41.6 30.4 42.7 C30 43.8 28.5 47 27.6 48.3 C26.7 49.6 24.3 52.6 23.1 53.9 C21.9 55.2 18.9 58.3 17.5 59.5 C16.1 60.7 12.4 63 10.8 64 C9.2 65 5.2 67.2 4 67.9 C2.8 68.6 0.9 69.8 0.5 70.1 Z" fill="#e7f0ea" fill-opacity="0.85"/>
<path d="M16.6 0.6 L50.4 0.6 L50.4 5.1 L45.7 11.4 L41.6 16.4 L39.3 18.5 L35.7 18.5 L30.2 13.3 L23.8 7.8 L18 2.6 Z" fill="#f0f0f1"/>
<rect x="27" y="4.2" width="2.8" height="4" fill="#cdcdd1"/>
<path d="M0.6 83.9 C1.7 84 4 83.9 6.2 84.2 C8.4 84.5 9.5 84.8 11.7 85.5 C13.9 86.2 15.4 86.7 17.1 87.7 C18.8 88.7 19.4 88.2 20.1 90.4 C20.8 92.6 20.6 95.4 20.7 98.6 C20.8 101.8 24.4 104.8 20.4 106.3 C16.4 107.8 4.6 106.3 0.6 106.3 Z" fill="#e7f0ea" fill-opacity="0.85"/>
<path d="M0.8 84.4 C2.2 85.6 3.6 86.5 6.2 88.8 C8.8 91.1 8.7 90.6 10.6 93.2 C12.5 95.8 12.4 95.1 13.3 98.6 C14.2 102.1 13.7 104.2 13.8 106.3" fill="none" stroke="#f8faf8" stroke-width="1.7"/>
<path d="M1 90 L4.5 91.5 L5 95 L1 95.5 Z M1 98 L4 98.5 L4.5 101 L1 101.5Z" fill="#d2d3d6"/>
<text x="14.6" y="34.8" class="mk" text-anchor="middle">VIRGINIA</text>
<text x="14.4" y="41.6" class="mk" text-anchor="middle">KEY</text>
</g>
</g>
<clipPath id="cpa3"><rect x="40.5" y="332" width="215" height="106.9"/></clipPath>
<g clip-path="url(#cpa3)">
<path d="M103.2 345.1 L255.7 406.8" fill="none" stroke="#b4b1ee" stroke-width="0.7" stroke-linecap="butt" stroke-linejoin="round"/>
<path d="M103.2 367 L255.7 428.9" fill="none" stroke="#efb0b5" stroke-width="0.7" stroke-linecap="butt" stroke-linejoin="round"/>
<ellipse cx="159" cy="376.6" rx="14.3" ry="15.4" fill="none" stroke="#a0a0a4" stroke-width="0.9" stroke-dasharray="3.6 2"/>
<ellipse cx="160.4" cy="398.8" rx="14.3" ry="15.4" fill="none" stroke="#a0a0a4" stroke-width="0.9" stroke-dasharray="3.6 2"/>
<path d="M114.7 343 C115.6 342.8 118.5 342 120.2 341.9 C122 341.8 123.5 342 125.2 342.3 C127 342.6 129 343.3 130.7 343.9 C132.3 344.5 133.5 345.2 135.1 346 C136.7 346.8 138.5 347.6 140.2 348.5 C141.9 349.4 143.4 350.1 145.1 351.1 C146.8 352 148.5 353.1 150.2 354.2 C151.9 355.3 153.4 356.4 155.1 357.6 C156.8 358.8 158.5 360.1 160.2 361.4 C161.9 362.7 163.4 364 165.1 365.3 C166.8 366.6 169.7 368.4 170.6 369" fill="none" stroke="#666666" stroke-width="0.9" stroke-linecap="butt" stroke-linejoin="round"/>
<path d="M170.6 369 C170.8 369.5 171.1 370.6 172 372.2 C172.9 373.8 175 376.8 176 378.5 C177 380.2 177.4 381 178.2 382.7 C178.9 384.4 179.7 386.6 180.5 388.7 C181.3 390.8 182.2 393.2 183 395.2 C183.8 397.2 184.6 399.1 185.1 400.9 C185.6 402.7 185.9 404.6 185.9 406.2 C185.9 407.8 185.2 409.8 185 410.5" fill="none" stroke="#1e1e1e" stroke-width="1.5" stroke-linecap="butt" stroke-linejoin="round"/>
<path d="M168.6 366.4 L145 331.6" fill="none" stroke="#505050" stroke-width="1.0" stroke-dasharray="2.8 1.6" stroke-linecap="butt" stroke-linejoin="round"/>
<path d="M159 376.6 C159.4 377.7 160.9 380.1 161.6 383 C162.3 385.9 163.3 389.5 163.4 394 C163.5 398.5 163.2 404.3 162.4 410 C161.6 415.7 159.8 423.2 158.6 428 C157.4 432.8 155.6 436.8 155 438.6" fill="none" stroke="#5656ee" stroke-width="1.1" stroke-dasharray="3 2" stroke-linecap="butt" stroke-linejoin="round"/>
<path d="M160.4 398.8 C161.7 399 165.4 399.8 168 399.8 C170.6 399.8 172.3 399.8 176 399 C179.7 398.2 184.3 396.6 190 395 C195.7 393.4 203.3 391.1 210 389.6 C216.7 388.1 222.4 387.2 230 386 C237.6 384.8 251.3 383 255.6 382.4" fill="none" stroke="#f25e5e" stroke-width="1.1" stroke-dasharray="3 2" stroke-linecap="butt" stroke-linejoin="round"/>
<path d="M103 344.4 C105.7 345.7 113.7 349.7 119 352 C124.3 354.3 130.3 356.2 135 358 C139.7 359.8 144 361.4 147 363 C150 364.6 151.3 365.9 153 367.5 C154.7 369.1 156 371 157 372.5 C158 374 158.7 375.9 159 376.6" fill="none" stroke="#2222ff" stroke-width="1.3" stroke-linecap="butt" stroke-linejoin="round"/>
<path d="M103 366.4 C105.7 367.3 115 370.4 119 372 C123 373.6 123.7 374 127 376 C130.3 378 135.3 381.7 139 384 C142.7 386.3 146.5 388.1 149 390 C151.5 391.9 152.7 394.1 154 395.5 C155.3 396.9 155.9 397.6 157 398.2 C158.1 398.8 159.8 398.7 160.4 398.8" fill="none" stroke="#ff2a2a" stroke-width="1.3" stroke-linecap="butt" stroke-linejoin="round"/>
<path d="M-3.1 -1.9 L0.9 -1.9 Q2.8 -1.9 3.1 0 Q2.8 1.9 0.9 1.9 L-3.1 1.9 Z" transform="translate(170.6 369) rotate(-128)" fill="#dcdcde" stroke="#333" stroke-width="0.7" stroke-linejoin="round"/>
<path d="M-3.4 -1.7 L1.5 -1.7 L3.4 0 L1.5 1.7 L-3.4 1.7 Z" transform="translate(159 376.6) rotate(68)" fill="#0a1a66" stroke="#050c3a" stroke-width="0.4" stroke-linejoin="round"/>
<path d="M-3.4 -1.7 L1.5 -1.7 L3.4 0 L1.5 1.7 L-3.4 1.7 Z" transform="translate(160.4 398.8) rotate(3)" fill="#ee1111" stroke="#7a0a0a" stroke-width="0.4" stroke-linejoin="round"/>
</g>
<g transform="translate(40.5 332)">
<rect x="0" y="0" width="215" height="106.9" fill="none" stroke="#a0a0a2" stroke-width="1"/>
<path d="M14.9 0v1.4M14.9 106.9v-1.4M51.1 0v1.4M51.1 106.9v-1.4M87.4 0v1.4M87.4 106.9v-1.4M123.7 0v1.4M123.7 106.9v-1.4M159.9 0v1.4M159.9 106.9v-1.4M196.1 0v1.4M196.1 106.9v-1.4M0 31.9h1.4M215 31.9h-1.4M0 72.2h1.4M215 72.2h-1.4" stroke="#666" stroke-width="0.6"/>
<text x="15.3" y="113.4" class="tk" text-anchor="middle">80°09'W</text>
<text x="51.5" y="113.4" class="tk" text-anchor="middle">80°08'W</text>
<text x="87.8" y="113.4" class="tk" text-anchor="middle">80°07'W</text>
<text x="124.1" y="113.4" class="tk" text-anchor="middle">80°06'W</text>
<text x="160.3" y="113.4" class="tk" text-anchor="middle">80°05'W</text>
<text x="196.5" y="113.4" class="tk" text-anchor="middle">80°04'W</text>
<text x="-2.2" y="34.6" class="tk" text-anchor="end">25°45'N</text>
<text x="-2.2" y="74.5" class="tk" text-anchor="end">25°44'N</text>
<text x="107.5" y="125.7" class="ax" text-anchor="middle">Longitude</text>
<text transform="translate(-23.5 61.5) rotate(-90)" class="ax" text-anchor="middle">Latitude</text>
<text x="83.2" y="140.2" class="cap"><tspan class="pr">(</tspan>a3<tspan class="pr">)</tspan></text>
</g>
<!-- panel b3 -->
<g transform="translate(325.3 332)">
<rect x="0" y="0" width="215" height="106.9" fill="#d2d1d5"/>
<path d="M14.9 0V106.9" stroke="#b2b1be" stroke-width="0.6" opacity="0.65"/>
<path d="M51.1 0V106.9" stroke="#b2b1be" stroke-width="0.6" opacity="0.65"/>
<path d="M87.4 0V106.9" stroke="#b2b1be" stroke-width="0.6" opacity="0.65"/>
<path d="M123.7 0V106.9" stroke="#b2b1be" stroke-width="0.6" opacity="0.65"/>
<path d="M159.9 0V106.9" stroke="#b2b1be" stroke-width="0.6" opacity="0.65"/>
<path d="M196.1 0V106.9" stroke="#b2b1be" stroke-width="0.6" opacity="0.65"/>
<path d="M0 31.9H215" stroke="#b2b1be" stroke-width="0.6" opacity="0.65"/>
<path d="M0 72.2H215" stroke="#b2b1be" stroke-width="0.6" opacity="0.65"/>
<g transform="translate(0.2 -0.3)">
<path d="M0.5 32 C0.7 31.7 1.6 29.9 2.3 29.2 C3 28.5 5.4 27.1 6.3 26.4 C7.2 25.7 8.9 24.5 9.6 23.6 C10.3 22.7 11.7 20 12.4 19.1 C13.1 18.2 14.6 16.3 15.2 15.8 C15.8 15.3 16.9 14.3 17.5 14.6 C18.1 14.9 19.7 16.9 20.3 18 C20.9 19.1 22.1 22.3 22.5 23.6 C22.9 24.9 23 28 23.3 29.2 C23.6 30.4 24.5 32.7 24.8 33.7 C25.1 34.7 25.6 36.7 25.9 37.4 C26.2 38.1 26.9 39.4 27.5 39.6 C28.1 39.8 30.6 38.4 30.9 38.8 C31.2 39.2 30.8 41.6 30.4 42.7 C30 43.8 28.5 47 27.6 48.3 C26.7 49.6 24.3 52.6 23.1 53.9 C21.9 55.2 18.9 58.3 17.5 59.5 C16.1 60.7 12.4 63 10.8 64 C9.2 65 5.2 67.2 4 67.9 C2.8 68.6 0.9 69.8 0.5 70.1 Z" fill="#e7f0ea" fill-opacity="0.85"/>
<path d="M16.6 0.6 L50.4 0.6 L50.4 5.1 L45.7 11.4 L41.6 16.4 L39.3 18.5 L35.7 18.5 L30.2 13.3 L23.8 7.8 L18 2.6 Z" fill="#f0f0f1"/>
<rect x="27" y="4.2" width="2.8" height="4" fill="#cdcdd1"/>
<path d="M0.6 83.9 C1.7 84 4 83.9 6.2 84.2 C8.4 84.5 9.5 84.8 11.7 85.5 C13.9 86.2 15.4 86.7 17.1 87.7 C18.8 88.7 19.4 88.2 20.1 90.4 C20.8 92.6 20.6 95.4 20.7 98.6 C20.8 101.8 24.4 104.8 20.4 106.3 C16.4 107.8 4.6 106.3 0.6 106.3 Z" fill="#e7f0ea" fill-opacity="0.85"/>
<path d="M0.8 84.4 C2.2 85.6 3.6 86.5 6.2 88.8 C8.8 91.1 8.7 90.6 10.6 93.2 C12.5 95.8 12.4 95.1 13.3 98.6 C14.2 102.1 13.7 104.2 13.8 106.3" fill="none" stroke="#f8faf8" stroke-width="1.7"/>
<path d="M1 90 L4.5 91.5 L5 95 L1 95.5 Z M1 98 L4 98.5 L4.5 101 L1 101.5Z" fill="#d2d3d6"/>
<text x="14.6" y="34.8" class="mk" text-anchor="middle">VIRGINIA</text>
<text x="14.4" y="41.6" class="mk" text-anchor="middle">KEY</text>
</g>
</g>
<clipPath id="cpb3"><rect x="325.3" y="332" width="215" height="106.9"/></clipPath>
<g clip-path="url(#cpb3)">
<path d="M388 345.1 L540.5 406.8" fill="none" stroke="#b4b1ee" stroke-width="0.7" stroke-linecap="butt" stroke-linejoin="round"/>
<path d="M388 367 L540.5 428.9" fill="none" stroke="#efb0b5" stroke-width="0.7" stroke-linecap="butt" stroke-linejoin="round"/>
<ellipse cx="444" cy="380" rx="14.3" ry="15.4" fill="none" stroke="#a0a0a4" stroke-width="0.9" stroke-dasharray="3.6 2"/>
<ellipse cx="444.4" cy="401" rx="14.3" ry="15.4" fill="none" stroke="#a0a0a4" stroke-width="0.9" stroke-dasharray="3.6 2"/>
<path d="M399.5 343 C400.4 342.8 403.2 342 405 341.9 C406.8 341.8 408.2 342 410 342.3 C411.8 342.6 413.9 343.3 415.5 343.9 C417.1 344.5 418.3 345.2 419.9 346 C421.5 346.8 423.3 347.6 425 348.5 C426.7 349.4 428.2 350.1 429.9 351.1 C431.6 352 433.3 353.1 435 354.2 C436.7 355.3 438.2 356.4 439.9 357.6 C441.6 358.8 443.3 360.1 445 361.4 C446.7 362.7 448.1 364.1 449.9 365.3 C451.6 366.5 454.6 367.8 455.5 368.3" fill="none" stroke="#666666" stroke-width="0.9" stroke-linecap="butt" stroke-linejoin="round"/>
<path d="M455.5 368.3 C455.7 368.9 455.9 370.5 456.8 372.2 C457.7 373.9 459.8 376.8 460.8 378.5 C461.8 380.2 462.2 381 463 382.7 C463.8 384.4 464.5 386.6 465.3 388.7 C466.1 390.8 467 393.2 467.8 395.2 C468.6 397.2 469.4 399.1 469.9 400.9 C470.4 402.7 470.7 404.6 470.7 406.2 C470.7 407.8 469.9 409.8 469.8 410.5" fill="none" stroke="#1e1e1e" stroke-width="1.5" stroke-linecap="butt" stroke-linejoin="round"/>
<path d="M453.5 366.2 C452.7 364.9 450.4 361.1 448.5 358.5 C446.6 355.9 444.3 352.5 442 350.3 C439.7 348.1 436.8 346.4 434.5 345.4 C432.2 344.4 429.9 344.2 428 344.2 C426.1 344.2 424.5 344.7 423 345.2 C421.5 345.7 420.9 346.7 419.2 347.1 C417.5 347.6 415.1 347.9 412.8 347.9 C410.5 347.9 407.6 347.5 405.2 347.1 C402.8 346.7 399.7 345.9 398.6 345.6" fill="none" stroke="#505050" stroke-width="1.0" stroke-dasharray="2.8 1.6" stroke-linecap="butt" stroke-linejoin="round"/>
<path d="M444 380 C445 380.8 447.8 383.2 450 385 C452.2 386.8 454.5 389.4 457 391 C459.5 392.6 460.3 393.2 465 394.4 C469.7 395.6 476.7 396.6 485 398 C493.3 399.4 505.7 401.4 515 403 C524.3 404.6 536.3 406.8 540.6 407.6" fill="none" stroke="#5656ee" stroke-width="1.1" stroke-dasharray="3 2" stroke-linecap="butt" stroke-linejoin="round"/>
<path d="M444.4 401 C445.2 401.9 447.2 404.7 449 406.5 C450.8 408.3 452.3 410.2 455 411.6 C457.7 413 460 413.8 465 415 C470 416.2 476.7 417.3 485 419 C493.3 420.7 505.7 423.1 515 425 C524.3 426.9 536.3 429.7 540.6 430.6" fill="none" stroke="#f25e5e" stroke-width="1.1" stroke-dasharray="3 2" stroke-linecap="butt" stroke-linejoin="round"/>
<path d="M388 344.4 C390 345.5 395.3 348.4 400 351 C404.7 353.6 411 357.2 416 360 C421 362.8 426.7 365.8 430 368 C433.3 370.2 434.3 371.5 436 373 C437.7 374.5 438.7 375.8 440 377 C441.3 378.2 443.3 379.5 444 380" fill="none" stroke="#2222ff" stroke-width="1.3" stroke-linecap="butt" stroke-linejoin="round"/>
<path d="M388 366.4 C389 366.8 391 367.1 394 369 C397 370.9 401.7 375 406 378 C410.3 381 416 384.3 420 387 C424 389.7 427 392.2 430 394 C433 395.8 435.6 396.4 438 397.6 C440.4 398.8 443.3 400.4 444.4 401" fill="none" stroke="#ff2a2a" stroke-width="1.3" stroke-linecap="butt" stroke-linejoin="round"/>
<path d="M-3.1 -1.9 L0.9 -1.9 Q2.8 -1.9 3.1 0 Q2.8 1.9 0.9 1.9 L-3.1 1.9 Z" transform="translate(455.5 368.3) rotate(-130)" fill="#dcdcde" stroke="#333" stroke-width="0.7" stroke-linejoin="round"/>
<path d="M-3.4 -1.7 L1.5 -1.7 L3.4 0 L1.5 1.7 L-3.4 1.7 Z" transform="translate(444 380) rotate(38)" fill="#0a1a66" stroke="#050c3a" stroke-width="0.4" stroke-linejoin="round"/>
<path d="M-3.4 -1.7 L1.5 -1.7 L3.4 0 L1.5 1.7 L-3.4 1.7 Z" transform="translate(444.4 401) rotate(42)" fill="#ee1111" stroke="#7a0a0a" stroke-width="0.4" stroke-linejoin="round"/>
</g>
<g transform="translate(325.3 332)">
<rect x="0" y="0" width="215" height="106.9" fill="none" stroke="#a0a0a2" stroke-width="1"/>
<path d="M14.9 0v1.4M14.9 106.9v-1.4M51.1 0v1.4M51.1 106.9v-1.4M87.4 0v1.4M87.4 106.9v-1.4M123.7 0v1.4M123.7 106.9v-1.4M159.9 0v1.4M159.9 106.9v-1.4M196.1 0v1.4M196.1 106.9v-1.4M0 31.9h1.4M215 31.9h-1.4M0 72.2h1.4M215 72.2h-1.4" stroke="#666" stroke-width="0.6"/>
<text x="15.3" y="113.4" class="tk" text-anchor="middle">80°09'W</text>
<text x="51.5" y="113.4" class="tk" text-anchor="middle">80°08'W</text>
<text x="87.8" y="113.4" class="tk" text-anchor="middle">80°07'W</text>
<text x="124.1" y="113.4" class="tk" text-anchor="middle">80°06'W</text>
<text x="160.3" y="113.4" class="tk" text-anchor="middle">80°05'W</text>
<text x="196.5" y="113.4" class="tk" text-anchor="middle">80°04'W</text>
<text x="-2.2" y="34.6" class="tk" text-anchor="end">25°45'N</text>
<text x="-2.2" y="74.5" class="tk" text-anchor="end">25°44'N</text>
<text x="107.5" y="125.7" class="ax" text-anchor="middle">Longitude</text>
<text transform="translate(-23.5 61.5) rotate(-90)" class="ax" text-anchor="middle">Latitude</text>
<text x="83.2" y="140.2" class="cap"><tspan class="pr">(</tspan>b3<tspan class="pr">)</tspan></text>
</g>
<!-- panel a4 -->
<g transform="translate(40.5 476.4)">
<rect x="0" y="0" width="215" height="106.9" fill="#d2d1d5"/>
<path d="M14.9 0V106.9" stroke="#b2b1be" stroke-width="0.6" opacity="0.65"/>
<path d="M51.1 0V106.9" stroke="#b2b1be" stroke-width="0.6" opacity="0.65"/>
<path d="M87.4 0V106.9" stroke="#b2b1be" stroke-width="0.6" opacity="0.65"/>
<path d="M123.7 0V106.9" stroke="#b2b1be" stroke-width="0.6" opacity="0.65"/>
<path d="M159.9 0V106.9" stroke="#b2b1be" stroke-width="0.6" opacity="0.65"/>
<path d="M196.1 0V106.9" stroke="#b2b1be" stroke-width="0.6" opacity="0.65"/>
<path d="M0 31.9H215" stroke="#b2b1be" stroke-width="0.6" opacity="0.65"/>
<path d="M0 72.2H215" stroke="#b2b1be" stroke-width="0.6" opacity="0.65"/>
<g transform="translate(0.2 -0.3)">
<path d="M0.5 32 C0.7 31.7 1.6 29.9 2.3 29.2 C3 28.5 5.4 27.1 6.3 26.4 C7.2 25.7 8.9 24.5 9.6 23.6 C10.3 22.7 11.7 20 12.4 19.1 C13.1 18.2 14.6 16.3 15.2 15.8 C15.8 15.3 16.9 14.3 17.5 14.6 C18.1 14.9 19.7 16.9 20.3 18 C20.9 19.1 22.1 22.3 22.5 23.6 C22.9 24.9 23 28 23.3 29.2 C23.6 30.4 24.5 32.7 24.8 33.7 C25.1 34.7 25.6 36.7 25.9 37.4 C26.2 38.1 26.9 39.4 27.5 39.6 C28.1 39.8 30.6 38.4 30.9 38.8 C31.2 39.2 30.8 41.6 30.4 42.7 C30 43.8 28.5 47 27.6 48.3 C26.7 49.6 24.3 52.6 23.1 53.9 C21.9 55.2 18.9 58.3 17.5 59.5 C16.1 60.7 12.4 63 10.8 64 C9.2 65 5.2 67.2 4 67.9 C2.8 68.6 0.9 69.8 0.5 70.1 Z" fill="#e7f0ea" fill-opacity="0.85"/>
<path d="M16.6 0.6 L50.4 0.6 L50.4 5.1 L45.7 11.4 L41.6 16.4 L39.3 18.5 L35.7 18.5 L30.2 13.3 L23.8 7.8 L18 2.6 Z" fill="#f0f0f1"/>
<rect x="27" y="4.2" width="2.8" height="4" fill="#cdcdd1"/>
<path d="M0.6 83.9 C1.7 84 4 83.9 6.2 84.2 C8.4 84.5 9.5 84.8 11.7 85.5 C13.9 86.2 15.4 86.7 17.1 87.7 C18.8 88.7 19.4 88.2 20.1 90.4 C20.8 92.6 20.6 95.4 20.7 98.6 C20.8 101.8 24.4 104.8 20.4 106.3 C16.4 107.8 4.6 106.3 0.6 106.3 Z" fill="#e7f0ea" fill-opacity="0.85"/>
<path d="M0.8 84.4 C2.2 85.6 3.6 86.5 6.2 88.8 C8.8 91.1 8.7 90.6 10.6 93.2 C12.5 95.8 12.4 95.1 13.3 98.6 C14.2 102.1 13.7 104.2 13.8 106.3" fill="none" stroke="#f8faf8" stroke-width="1.7"/>
<path d="M1 90 L4.5 91.5 L5 95 L1 95.5 Z M1 98 L4 98.5 L4.5 101 L1 101.5Z" fill="#d2d3d6"/>
<text x="14.6" y="34.8" class="mk" text-anchor="middle">VIRGINIA</text>
<text x="14.4" y="41.6" class="mk" text-anchor="middle">KEY</text>
</g>
</g>
<clipPath id="cpa4"><rect x="40.5" y="476.4" width="215" height="106.9"/></clipPath>
<g clip-path="url(#cpa4)">
<path d="M103.2 489.5 L255.7 551.2" fill="none" stroke="#b4b1ee" stroke-width="0.7" stroke-linecap="butt" stroke-linejoin="round"/>
<path d="M103.2 511.4 L255.7 573.3" fill="none" stroke="#efb0b5" stroke-width="0.7" stroke-linecap="butt" stroke-linejoin="round"/>
<ellipse cx="190.3" cy="550.4" rx="14.3" ry="15.4" fill="none" stroke="#a0a0a4" stroke-width="0.9" stroke-dasharray="3.6 2"/>
<ellipse cx="197.6" cy="563.8" rx="14.3" ry="15.4" fill="none" stroke="#a0a0a4" stroke-width="0.9" stroke-dasharray="3.6 2"/>
<path d="M114.5 487.4 C115.5 487.2 118.5 486.3 120.5 486.2 C122.5 486.1 124.8 486.4 126.8 486.7 C128.8 487 130.6 487.3 132.3 487.8 C134 488.3 136.1 489.3 136.8 489.6" fill="none" stroke="#666666" stroke-width="0.9" stroke-linecap="butt" stroke-linejoin="round"/>
<path d="M136.8 489.6 C137.5 489.9 139.3 490.8 140.7 491.4 C142.1 492 143.4 492.6 145 493.5 C146.6 494.4 148.3 495.6 150 496.8 C151.7 498 153.3 499.2 155 500.5 C156.7 501.8 158.3 503.1 160 504.4 C161.7 505.7 163.3 506.9 165 508.5 C166.7 510.1 168.5 512.1 170 514 C171.5 515.9 173 518.5 174 520 C175 521.5 175 520.8 176 523 C177 525.2 178.8 529.8 180 533 C181.2 536.2 182.6 539.3 183.5 542 C184.4 544.7 185.2 547 185.5 549 C185.8 551 185.1 553.2 185 554" fill="none" stroke="#1e1e1e" stroke-width="1.5" stroke-linecap="butt" stroke-linejoin="round"/>
<path d="M133.4 488.2 C132.6 487.8 130.2 486.3 128.6 485.5 C127 484.7 124.8 483.7 124 483.3" fill="none" stroke="#505050" stroke-width="1.0" stroke-dasharray="2.8 1.6" stroke-linecap="butt" stroke-linejoin="round"/>
<path d="M190.3 550.4 C193.6 550.5 203.4 550.7 210 551 C216.6 551.3 222.4 551.5 230 552 C237.6 552.5 251.3 553.7 255.6 554" fill="none" stroke="#5656ee" stroke-width="1.1" stroke-dasharray="3 2" stroke-linecap="butt" stroke-linejoin="round"/>
<path d="M197.6 563.8 C200.3 564.2 208.6 565.5 214 566.4 C219.4 567.3 223.1 567.9 230 569 C236.9 570.1 251.3 572.5 255.6 573.2" fill="none" stroke="#f25e5e" stroke-width="1.1" stroke-dasharray="3 2" stroke-linecap="butt" stroke-linejoin="round"/>
<path d="M103 489 C105.7 490.2 113.7 494.1 119 496.4 C124.3 498.7 130.3 501 135 503 C139.7 505 143.7 506.2 147 508.4 C150.3 510.6 152.3 512.7 155 516 C157.7 519.3 160.3 524.3 163 528 C165.7 531.7 168.3 535.4 171 538.4 C173.7 541.4 176.7 544.1 179 546 C181.3 547.9 183.1 548.9 185 549.6 C186.9 550.3 189.4 550.3 190.3 550.4" fill="none" stroke="#2222ff" stroke-width="1.3" stroke-linecap="butt" stroke-linejoin="round"/>
<path d="M103 511 C105.7 512 115 515.3 119 517 C123 518.7 123.7 519 127 521 C130.3 523 135.3 526.5 139 529 C142.7 531.5 145 533.3 149 536 C153 538.7 158.7 542.1 163 545 C167.3 547.9 171.7 551 175 553.4 C178.3 555.8 180.3 557.8 183 559.4 C185.7 561 188.6 562.1 191 562.8 C193.4 563.5 196.5 563.6 197.6 563.8" fill="none" stroke="#ff2a2a" stroke-width="1.3" stroke-linecap="butt" stroke-linejoin="round"/>
<path d="M-3.1 -1.9 L0.9 -1.9 Q2.8 -1.9 3.1 0 Q2.8 1.9 0.9 1.9 L-3.1 1.9 Z" transform="translate(136.8 489.6) rotate(-155)" fill="#dcdcde" stroke="#333" stroke-width="0.7" stroke-linejoin="round"/>
<path d="M-3.4 -1.7 L1.5 -1.7 L3.4 0 L1.5 1.7 L-3.4 1.7 Z" transform="translate(190.3 550.4) rotate(3)" fill="#0a1a66" stroke="#050c3a" stroke-width="0.4" stroke-linejoin="round"/>
<path d="M-3.4 -1.7 L1.5 -1.7 L3.4 0 L1.5 1.7 L-3.4 1.7 Z" transform="translate(197.6 563.8) rotate(5)" fill="#ee1111" stroke="#7a0a0a" stroke-width="0.4" stroke-linejoin="round"/>
</g>
<g transform="translate(40.5 476.4)">
<rect x="0" y="0" width="215" height="106.9" fill="none" stroke="#a0a0a2" stroke-width="1"/>
<path d="M14.9 0v1.4M14.9 106.9v-1.4M51.1 0v1.4M51.1 106.9v-1.4M87.4 0v1.4M87.4 106.9v-1.4M123.7 0v1.4M123.7 106.9v-1.4M159.9 0v1.4M159.9 106.9v-1.4M196.1 0v1.4M196.1 106.9v-1.4M0 31.9h1.4M215 31.9h-1.4M0 72.2h1.4M215 72.2h-1.4" stroke="#666" stroke-width="0.6"/>
<text x="15.3" y="113.4" class="tk" text-anchor="middle">80°09'W</text>
<text x="51.5" y="113.4" class="tk" text-anchor="middle">80°08'W</text>
<text x="87.8" y="113.4" class="tk" text-anchor="middle">80°07'W</text>
<text x="124.1" y="113.4" class="tk" text-anchor="middle">80°06'W</text>
<text x="160.3" y="113.4" class="tk" text-anchor="middle">80°05'W</text>
<text x="196.5" y="113.4" class="tk" text-anchor="middle">80°04'W</text>
<text x="-2.2" y="34.6" class="tk" text-anchor="end">25°45'N</text>
<text x="-2.2" y="74.5" class="tk" text-anchor="end">25°44'N</text>
<text x="107.5" y="125.7" class="ax" text-anchor="middle">Longitude</text>
<text transform="translate(-23.5 61.5) rotate(-90)" class="ax" text-anchor="middle">Latitude</text>
<text x="83.2" y="140.2" class="cap"><tspan class="pr">(</tspan>a4<tspan class="pr">)</tspan></text>
</g>
<!-- panel b4 -->
<g transform="translate(325.3 476.4)">
<rect x="0" y="0" width="215" height="106.9" fill="#d2d1d5"/>
<path d="M14.9 0V106.9" stroke="#b2b1be" stroke-width="0.6" opacity="0.65"/>
<path d="M51.1 0V106.9" stroke="#b2b1be" stroke-width="0.6" opacity="0.65"/>
<path d="M87.4 0V106.9" stroke="#b2b1be" stroke-width="0.6" opacity="0.65"/>
<path d="M123.7 0V106.9" stroke="#b2b1be" stroke-width="0.6" opacity="0.65"/>
<path d="M159.9 0V106.9" stroke="#b2b1be" stroke-width="0.6" opacity="0.65"/>
<path d="M196.1 0V106.9" stroke="#b2b1be" stroke-width="0.6" opacity="0.65"/>
<path d="M0 31.9H215" stroke="#b2b1be" stroke-width="0.6" opacity="0.65"/>
<path d="M0 72.2H215" stroke="#b2b1be" stroke-width="0.6" opacity="0.65"/>
<g transform="translate(0.2 -0.3)">
<path d="M0.5 32 C0.7 31.7 1.6 29.9 2.3 29.2 C3 28.5 5.4 27.1 6.3 26.4 C7.2 25.7 8.9 24.5 9.6 23.6 C10.3 22.7 11.7 20 12.4 19.1 C13.1 18.2 14.6 16.3 15.2 15.8 C15.8 15.3 16.9 14.3 17.5 14.6 C18.1 14.9 19.7 16.9 20.3 18 C20.9 19.1 22.1 22.3 22.5 23.6 C22.9 24.9 23 28 23.3 29.2 C23.6 30.4 24.5 32.7 24.8 33.7 C25.1 34.7 25.6 36.7 25.9 37.4 C26.2 38.1 26.9 39.4 27.5 39.6 C28.1 39.8 30.6 38.4 30.9 38.8 C31.2 39.2 30.8 41.6 30.4 42.7 C30 43.8 28.5 47 27.6 48.3 C26.7 49.6 24.3 52.6 23.1 53.9 C21.9 55.2 18.9 58.3 17.5 59.5 C16.1 60.7 12.4 63 10.8 64 C9.2 65 5.2 67.2 4 67.9 C2.8 68.6 0.9 69.8 0.5 70.1 Z" fill="#e7f0ea" fill-opacity="0.85"/>
<path d="M16.6 0.6 L50.4 0.6 L50.4 5.1 L45.7 11.4 L41.6 16.4 L39.3 18.5 L35.7 18.5 L30.2 13.3 L23.8 7.8 L18 2.6 Z" fill="#f0f0f1"/>
<rect x="27" y="4.2" width="2.8" height="4" fill="#cdcdd1"/>
<path d="M0.6 83.9 C1.7 84 4 83.9 6.2 84.2 C8.4 84.5 9.5 84.8 11.7 85.5 C13.9 86.2 15.4 86.7 17.1 87.7 C18.8 88.7 19.4 88.2 20.1 90.4 C20.8 92.6 20.6 95.4 20.7 98.6 C20.8 101.8 24.4 104.8 20.4 106.3 C16.4 107.8 4.6 106.3 0.6 106.3 Z" fill="#e7f0ea" fill-opacity="0.85"/>
<path d="M0.8 84.4 C2.2 85.6 3.6 86.5 6.2 88.8 C8.8 91.1 8.7 90.6 10.6 93.2 C12.5 95.8 12.4 95.1 13.3 98.6 C14.2 102.1 13.7 104.2 13.8 106.3" fill="none" stroke="#f8faf8" stroke-width="1.7"/>
<path d="M1 90 L4.5 91.5 L5 95 L1 95.5 Z M1 98 L4 98.5 L4.5 101 L1 101.5Z" fill="#d2d3d6"/>
<text x="14.6" y="34.8" class="mk" text-anchor="middle">VIRGINIA</text>
<text x="14.4" y="41.6" class="mk" text-anchor="middle">KEY</text>
</g>
</g>
<clipPath id="cpb4"><rect x="325.3" y="476.4" width="215" height="106.9"/></clipPath>
<g clip-path="url(#cpb4)">
<path d="M388 489.5 L540.5 551.2" fill="none" stroke="#b4b1ee" stroke-width="0.7" stroke-linecap="butt" stroke-linejoin="round"/>
<path d="M388 511.4 L540.5 573.3" fill="none" stroke="#efb0b5" stroke-width="0.7" stroke-linecap="butt" stroke-linejoin="round"/>
<ellipse cx="483" cy="535.4" rx="14.3" ry="15.4" fill="none" stroke="#a0a0a4" stroke-width="0.9" stroke-dasharray="3.6 2"/>
<ellipse cx="484.8" cy="556" rx="14.3" ry="15.4" fill="none" stroke="#a0a0a4" stroke-width="0.9" stroke-dasharray="3.6 2"/>
<path d="M399.3 487.4 C400.3 487.2 403.2 486.3 405.3 486.2 C407.4 486.1 409.6 486.4 411.6 486.7 C413.6 487 415.6 487.3 417.1 487.8 C418.7 488.3 420.3 489.2 420.9 489.5" fill="none" stroke="#666666" stroke-width="0.9" stroke-linecap="butt" stroke-linejoin="round"/>
<path d="M420.9 489.5 C421.7 489.8 424 490.7 425.5 491.4 C427 492.1 428.2 492.6 429.8 493.5 C431.4 494.4 433.1 495.6 434.8 496.8 C436.5 498 438.1 499.2 439.8 500.5 C441.5 501.8 443.1 503.1 444.8 504.4 C446.5 505.7 448.1 506.9 449.8 508.5 C451.5 510.1 453.3 512.1 454.8 514 C456.3 515.9 457.8 518.5 458.8 520 C459.8 521.5 459.8 520.8 460.8 523 C461.8 525.2 463.6 529.8 464.8 533 C466.1 536.2 467.4 539.3 468.3 542 C469.2 544.7 470.1 547 470.3 549 C470.6 551 469.9 553.2 469.8 554" fill="none" stroke="#1e1e1e" stroke-width="1.5" stroke-linecap="butt" stroke-linejoin="round"/>
<path d="M417.3 487.6 C416.7 487.3 415.1 486.4 413.6 485.8 C412.1 485.2 410.3 484.6 408.2 484 C406.1 483.4 402.1 482.7 400.9 482.4" fill="none" stroke="#505050" stroke-width="1.0" stroke-dasharray="2.8 1.6" stroke-linecap="butt" stroke-linejoin="round"/>
<path d="M483 535.4 C483.8 535.5 484.3 534.9 488 535.8 C491.7 536.7 498.8 539.2 505 541 C511.2 542.8 519.1 544.8 525 546.6 C530.9 548.4 538 550.8 540.6 551.6" fill="none" stroke="#5656ee" stroke-width="1.1" stroke-dasharray="3 2" stroke-linecap="butt" stroke-linejoin="round"/>
<path d="M484.8 556 C485.7 556.1 486.6 555.7 490 556.6 C493.4 557.5 499.2 559.6 505 561.6 C510.8 563.6 519.3 566.5 525 568.4 C530.7 570.3 536.7 572.4 539 573.2" fill="none" stroke="#f25e5e" stroke-width="1.1" stroke-dasharray="3 2" stroke-linecap="butt" stroke-linejoin="round"/>
<path d="M388 489 C390 490.1 395.3 493 400 495.6 C404.7 498.2 410.7 501.4 416 504.4 C421.3 507.4 428 510.6 432 513.4 C436 516.2 437.3 518.4 440 521 C442.7 523.6 445.3 526.8 448 529 C450.7 531.2 453.3 533 456 534.2 C458.7 535.4 461 535.9 464 536.2 C467 536.5 470.8 536.3 474 536.2 C477.2 536.1 481.5 535.5 483 535.4" fill="none" stroke="#2222ff" stroke-width="1.3" stroke-linecap="butt" stroke-linejoin="round"/>
<path d="M388 511 C389 511.4 391 511.8 394 513.6 C397 515.4 401.7 518.9 406 522 C410.3 525.1 416 529.3 420 532 C424 534.7 426.7 536.3 430 538 C433.3 539.7 437 540.3 440 542 C443 543.7 445.3 546.2 448 548 C450.7 549.8 453.3 551.7 456 553 C458.7 554.3 460.7 555.1 464 555.6 C467.3 556.1 472.5 556.1 476 556.2 C479.5 556.3 483.3 556 484.8 556" fill="none" stroke="#ff2a2a" stroke-width="1.3" stroke-linecap="butt" stroke-linejoin="round"/>
<path d="M-3.1 -1.9 L0.9 -1.9 Q2.8 -1.9 3.1 0 Q2.8 1.9 0.9 1.9 L-3.1 1.9 Z" transform="translate(420.9 489.5) rotate(-155)" fill="#dcdcde" stroke="#333" stroke-width="0.7" stroke-linejoin="round"/>
<path d="M-3.4 -1.7 L1.5 -1.7 L3.4 0 L1.5 1.7 L-3.4 1.7 Z" transform="translate(483 535.4) rotate(-3)" fill="#0a1a66" stroke="#050c3a" stroke-width="0.4" stroke-linejoin="round"/>
<path d="M-3.4 -1.7 L1.5 -1.7 L3.4 0 L1.5 1.7 L-3.4 1.7 Z" transform="translate(484.8 556) rotate(0)" fill="#ee1111" stroke="#7a0a0a" stroke-width="0.4" stroke-linejoin="round"/>
</g>
<g transform="translate(325.3 476.4)">
<rect x="0" y="0" width="215" height="106.9" fill="none" stroke="#a0a0a2" stroke-width="1"/>
<path d="M14.9 0v1.4M14.9 106.9v-1.4M51.1 0v1.4M51.1 106.9v-1.4M87.4 0v1.4M87.4 106.9v-1.4M123.7 0v1.4M123.7 106.9v-1.4M159.9 0v1.4M159.9 106.9v-1.4M196.1 0v1.4M196.1 106.9v-1.4M0 31.9h1.4M215 31.9h-1.4M0 72.2h1.4M215 72.2h-1.4" stroke="#666" stroke-width="0.6"/>
<text x="15.3" y="113.4" class="tk" text-anchor="middle">80°09'W</text>
<text x="51.5" y="113.4" class="tk" text-anchor="middle">80°08'W</text>
<text x="87.8" y="113.4" class="tk" text-anchor="middle">80°07'W</text>
<text x="124.1" y="113.4" class="tk" text-anchor="middle">80°06'W</text>
<text x="160.3" y="113.4" class="tk" text-anchor="middle">80°05'W</text>
<text x="196.5" y="113.4" class="tk" text-anchor="middle">80°04'W</text>
<text x="-2.2" y="34.6" class="tk" text-anchor="end">25°45'N</text>
<text x="-2.2" y="74.5" class="tk" text-anchor="end">25°44'N</text>
<text x="107.5" y="125.7" class="ax" text-anchor="middle">Longitude</text>
<text transform="translate(-23.5 61.5) rotate(-90)" class="ax" text-anchor="middle">Latitude</text>
<text x="83.2" y="140.2" class="cap"><tspan class="pr">(</tspan>b4<tspan class="pr">)</tspan></text>
</g>
</svg></body></html>
